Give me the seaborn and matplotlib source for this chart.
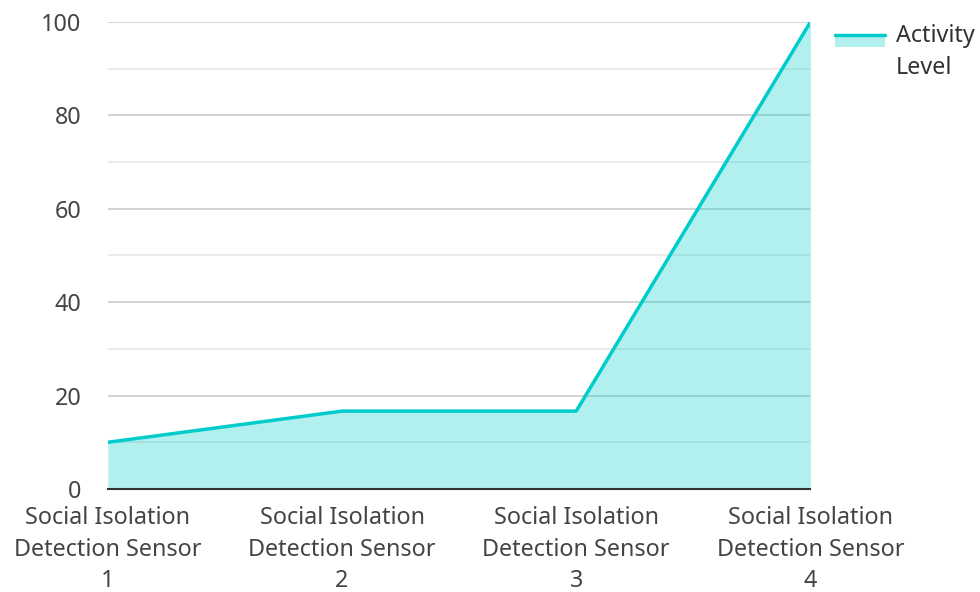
import matplotlib
matplotlib.use("Agg")
import matplotlib.pyplot as plt
import seaborn as sns
import pandas as pd
from matplotlib.patches import Rectangle
from matplotlib.lines import Line2D
from matplotlib.ticker import MultipleLocator

sensors = ["Social Isolation\nDetection Sensor\n1", "Social Isolation\nDetection Sensor\n2",
           "Social Isolation\nDetection Sensor\n3", "Social Isolation\nDetection Sensor\n4"]
activity = [10, 16.67, 16.67, 100]

line_color = "#00cccc"


class AreaHandler:
    # filled box with the line on its top edge, like the reference legend
    def legend_artist(self, legend, orig_handle, fontsize, handlebox):
        x0, y0 = handlebox.xdescent, handlebox.ydescent
        w, h = handlebox.width, handlebox.height
        top = y0 + h * 1.6
        rect = Rectangle((x0, top - h * 0.72), w, h * 0.72, facecolor=line_color, alpha=0.3,
                         linewidth=0, transform=handlebox.get_transform())
        ln = Line2D([x0, x0 + w], [top, top], color=line_color, linewidth=2.5,
                    transform=handlebox.get_transform())
        handlebox.add_artist(rect)
        handlebox.add_artist(ln)
        return ln


sns.set_style("white")
plt.rcParams['font.family'] = ['Noto Sans', 'DejaVu Sans']

df = pd.DataFrame({"pos": range(len(sensors)), "activity": activity})

fig = plt.figure(figsize=(9.8, 5.92), dpi=100)
ax = fig.add_axes([0.110, 0.174, 0.717, 0.789])

ax.fill_between(df["pos"], 0, df["activity"], color=line_color, alpha=0.3, linewidth=0, zorder=2)
sns.lineplot(data=df, x="pos", y="activity", color=line_color, linewidth=2.5, ax=ax, zorder=3)

ax.set_xlim(0, len(sensors) - 1)
ax.set_ylim(0, 100)
ax.set_xticks(range(len(sensors)))
ax.set_xticklabels(sensors, linespacing=1.44)
ax.yaxis.set_major_locator(MultipleLocator(20))
ax.yaxis.set_minor_locator(MultipleLocator(10))
ax.grid(axis="y", which="major", color="#cccccc", linewidth=1.2, zorder=1)
ax.grid(axis="y", which="minor", color="#e6e6e6", linewidth=1.2, zorder=1)
ax.set_axisbelow(True)
ax.set_xlabel("")
ax.set_ylabel("")
ax.tick_params(axis="both", which="both", length=0, labelsize=16.8, labelcolor="#444444")
ax.tick_params(axis="y", pad=19)
ax.tick_params(axis="x", pad=12)

for side in ["top", "right", "left"]:
    ax.spines[side].set_visible(False)
ax.spines["bottom"].set_color("#333333")
ax.spines["bottom"].set_linewidth(1.5)
ax.spines["bottom"].set_zorder(4)

leg = ax.legend([object()], ["Activity\nLevel"], handler_map={object: AreaHandler()},
                loc="upper left", bbox_to_anchor=(835 / 980, 1 - 24 / 592),
                bbox_transform=fig.transFigure, frameon=False, fontsize=16.8,
                labelcolor="#333333", handlelength=2.15, handletextpad=0.45,
                borderpad=0, borderaxespad=0)
for t in leg.get_texts():
    t.set_linespacing(1.47)

plt.savefig("out.png", dpi=100)
plt.close()
